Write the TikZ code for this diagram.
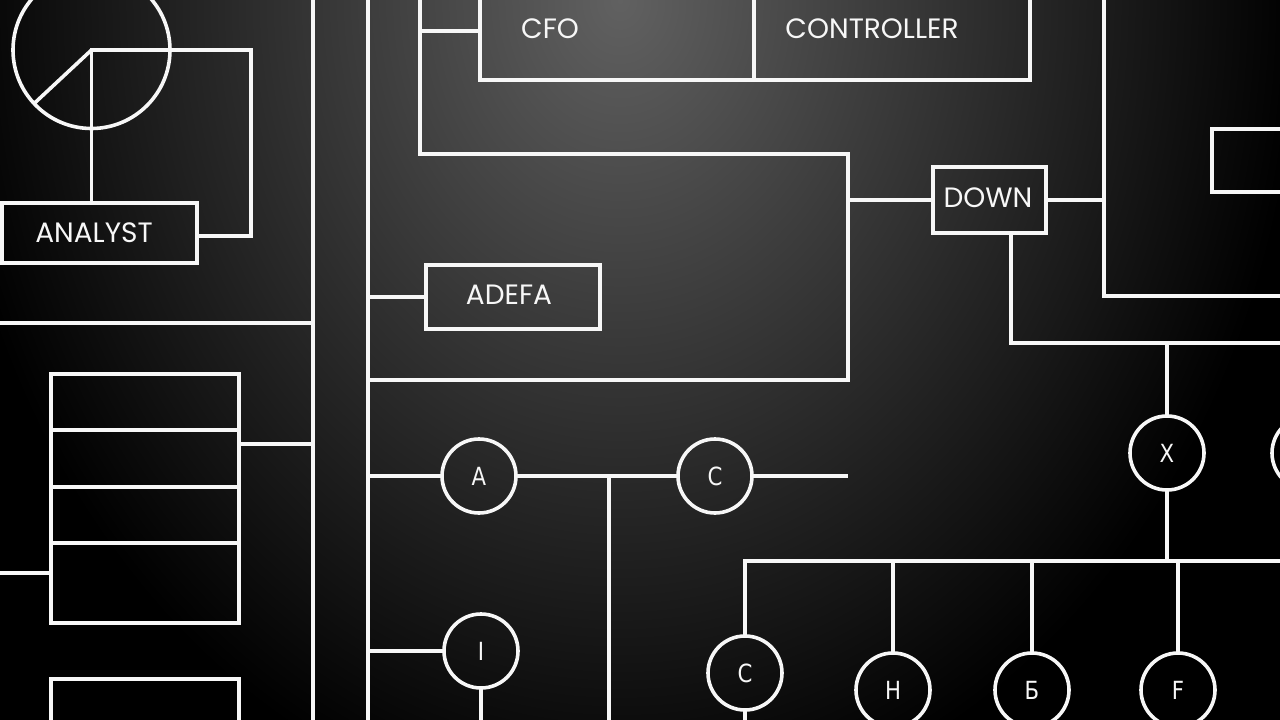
\documentclass[tikz,border=0pt]{standalone}
\usepackage{fontspec}
\setmainfont{Poppins}
\newfontfamily\circfont[FakeStretch=0.85]{DejaVu Sans}
\definecolor{bgcenter}{gray}{0.38}
\definecolor{ink}{gray}{0.97}
\begin{document}
\begin{tikzpicture}[x=1pt,y=-1pt,
  wire/.style={draw=ink, line width=3.6pt, line join=miter},
  box/.style={draw=ink, line width=3.6pt, rectangle, inner sep=0pt, outer sep=0pt},
  ring/.style={draw=ink, line width=3.6pt, circle, inner sep=0pt, outer sep=0pt,
     minimum size=74pt, text=ink, font=\circfont\fontsize{25}{25}\selectfont},
  lbl/.style={text=ink, inner sep=0pt, font=\fontsize{28}{28}\selectfont}]
\useasboundingbox (0,0) rectangle (1280,720);
% background
\fill[black] (0,0) rectangle (1280,720);
\begin{scope}
\clip (0,0) rectangle (1280,720);
\shade[inner color=bgcenter, outer color=black] (620,0) ellipse (680 and 830);
\end{scope}

% bus coordinates
\coordinate (b1) at (313,0);
\coordinate (b2) at (368,0);

% boxes
\node[box, minimum width=195pt, minimum height=60pt] (analyst) at (99.5,233) {};
\node[box, minimum width=274pt, minimum height=90pt] (cfo) at (617,35) {};
\node[box, minimum width=276pt, minimum height=90pt] (controller) at (892,35) {};
\node[box, minimum width=174pt, minimum height=64pt] (adefa) at (513,297) {};
\node[box, minimum width=113pt, minimum height=66pt] (down) at (989.5,200) {};
\node[box, minimum width=88pt, minimum height=63pt] (rbox) at (1256,160.5) {};
\node[box, minimum width=188pt, minimum height=56pt] (s1) at (145,402) {};
\node[box, minimum width=188pt, minimum height=57pt] (s2) at (145,458.5) {};
\node[box, minimum width=188pt, minimum height=56pt] (s3) at (145,515) {};
\node[box, minimum width=188pt, minimum height=80pt] (s4) at (145,583) {};
\node[box, minimum width=188pt, minimum height=81pt] (bbox) at (145,719.5) {};

% labels
\node[lbl] (analysttxt) at (94,233) {ANALYST};
\node[lbl] (cfotxt) at (550,29) {CFO};
\node[lbl] (controllertxt) at (872,29) {CONTROLLER};
\node[lbl] (adefatxt) at (509,295) {ADEFA};
\node[lbl] (downtxt) at (988,198) {DOWN};

% circles
\node[ring, minimum size=157pt] (pie) at (91.5,50) {};
\node[ring] (A) at (479,476) {A};
\node[ring] (C1) at (715,476) {C};
\node[ring] (I) at (481,651) {I};
\node[ring] (X) at (1167,453) {X};
\node[ring] (R) at (1309,453) {};
\node[ring] (C2) at (745,673) {C};
\node[ring] (H) at (893,690) {H};
\node[ring] (B) at (1032,690) {Б};
\node[ring] (F) at (1178,690) {F};

% vertical buses
\draw[wire] (b1 |- 0,-5) -- (b1 |- 0,725);
\draw[wire] (b2 |- 0,-5) -- (b2 |- 0,725);

% left side
\draw[wire] (0,323) -- (b1 |- 0,323);
\draw[wire] (s2.east |- 0,444) -- (b1 |- 0,444);
\draw[wire] (0,573) -- (s4.west |- 0,573);

% pie and analyst
\draw[wire] (pie.center |- analyst.north) -- (pie.center) -- (251,50) -- (251,236) -- (analyst.east |- 0,236);
\draw[wire] (pie.center) -- (pie.223);

% big frame around CFO
\draw[wire] (420,-5) -- (420,154) -- (848,154) -- (848,380) -- (b2 |- 0,380);
\draw[wire] (420,31) -- (cfo.west |- 0,31);
\draw[wire] (b2 |- adefa.west) -- (adefa.west);

% DOWN
\draw[wire] (down.west -| 848,0) -- (down.west);
\draw[wire] (down.east) -- (1104,200);
\draw[wire] (1104,-5) -- (1104,296) -- (1285,296);
\draw[wire] (down.south -| 1011,0) -- (1011,343) -- (1285,343);
\draw[wire] (X.north |- 0,343) -- (X.north);
\draw[wire] (X.south) -- (X.south |- 0,561);
\draw[wire] (C2.north) -- (C2.north |- 0,561) -- (1285,561);
\draw[wire] (H.north) -- (H.north |- 0,561);
\draw[wire] (B.north) -- (B.north |- 0,561);
\draw[wire] (F.north) -- (F.north |- 0,561);
\draw[wire] (C2.south) -- (C2.south |- 0,725);

% A / C / I
\draw[wire] (b2 |- A.west) -- (A.west);
\draw[wire] (A.east) -- (C1.west);
\draw[wire] (C1.east) -- (848,476);
\draw[wire] (609,476) -- (609,725);
\draw[wire] (b2 |- I.west) -- (I.west);
\draw[wire] (I.south) -- (I.south |- 0,725);
\end{tikzpicture}
\end{document}
